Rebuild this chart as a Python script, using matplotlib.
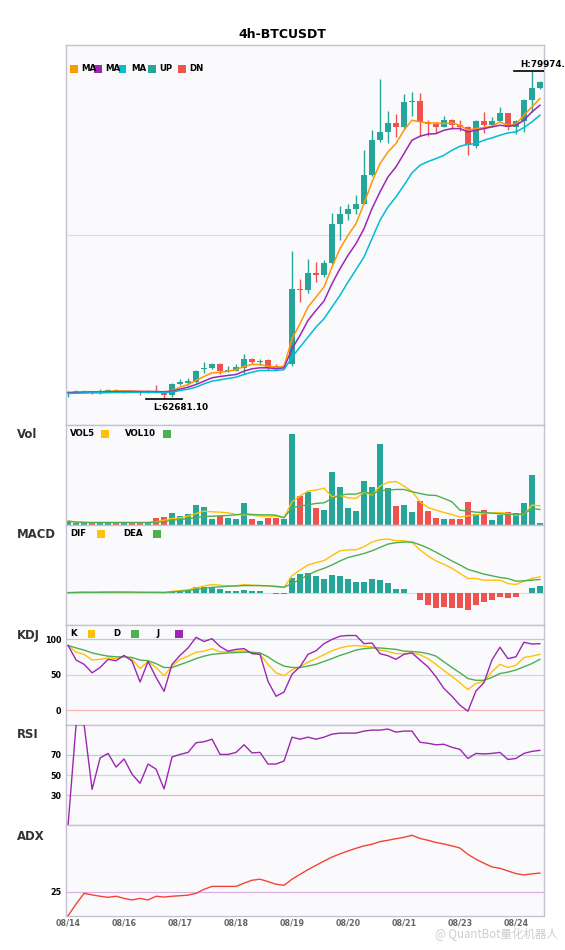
import matplotlib
matplotlib.use("Agg")
import matplotlib.pyplot as plt
from matplotlib.patches import Rectangle
import numpy as np

# ---- data (4h candles, 60 bars) ----
opens = [63000, 63020, 63040, 63070, 63020, 63070, 63130, 63060, 63100, 63050,
         63000, 63100, 63050, 62880, 63470, 63490, 63545, 64220, 64310, 64480,
         64130, 64160, 64300, 64780, 64600, 64690, 64400, 64330, 64480, 68480,
         68390, 69310, 69220, 69840, 71880, 72410, 72680, 72980, 74480, 76320,
         76750, 77220, 77030, 78330, 78390, 77310, 77200, 77030, 77420, 77150,
         77000, 76010, 77330, 77150, 77330, 77740, 77000, 77330, 78440, 79060]
highs = [63100, 63130, 63150, 63100, 63170, 63170, 63170, 63150, 63130, 63080,
         63150, 63370, 63100, 63490, 63690, 63750, 64170, 64600, 64540, 64540,
         64420, 64480, 65050, 64840, 64780, 64750, 64480, 64460, 70460, 68980,
         70030, 69870, 69980, 72470, 72840, 72940, 73420, 75800, 76890, 79550,
         77860, 77700, 78760, 78860, 78810, 77420, 77300, 77590, 77470, 77420,
         77070, 77420, 77820, 77560, 78090, 77770, 77420, 78530, 79974.5, 79460]
lows = [62750, 62950, 62980, 62900, 62930, 63030, 63000, 62950, 63000, 62880,
        62980, 62950, 62681.1, 62750, 63370, 63400, 63490, 64040, 64250, 63990,
        64100, 64130, 63950, 64500, 64460, 64200, 64200, 64280, 64380, 67780,
        68270, 68830, 69100, 69780, 71070, 72100, 72410, 72950, 74420, 76240,
        76180, 76500, 76940, 77590, 76540, 76560, 76710, 77000, 76940, 76820,
        75530, 75940, 76710, 77000, 77290, 76850, 76630, 76770, 77820, 79020]
closes = [63050, 63060, 63080, 63020, 63070, 63130, 63060, 63100, 63050, 62990,
          63090, 63000, 62880, 63440, 63540, 63620, 64160, 64310, 64480, 64130,
          64200, 64370, 64780, 64600, 64680, 64370, 64300, 64420, 68480, 68390,
          69310, 69220, 69840, 71880, 72410, 72680, 72980, 74480, 76330, 76750,
          77220, 77030, 78340, 78390, 77310, 77190, 77030, 77420, 77150, 77000,
          76060, 77330, 77150, 77330, 77740, 77000, 77330, 78440, 79060, 79410]

ma5 = [63000, 63020, 63040, 63040, 63040, 63060, 63080, 63080, 63080, 63060,
       63050, 63040, 63000, 63105, 63281, 63422, 63634, 63845, 64039, 64057,
       64127, 64198, 64374, 64480, 64480, 64374, 64340, 64374, 65837, 66631,
       67512, 68041, 68570, 69627, 70597, 71302, 71919, 72976, 74122, 75092,
       75709, 76149, 76855, 77383, 77295, 77242, 77242, 77206, 77242, 77118,
       76854, 76942, 76995, 77065, 77294, 77118, 77171, 77647, 78088, 78528]
ma10 = [62990, 63000, 63010, 63020, 63020, 63030, 63040, 63050, 63050, 63050,
        63050, 63050, 63040, 63070, 63175, 63281, 63422, 63598, 63775, 63845,
        63898, 63951, 64127, 64251, 64304, 64304, 64251, 64304, 65309, 66014,
        66807, 67336, 67829, 68746, 69539, 70244, 70861, 71654, 72712, 73593,
        74387, 74915, 75621, 76326, 76537, 76650, 76677, 76854, 76942, 76942,
        76766, 76854, 76942, 77030, 77118, 77065, 77118, 77383, 77823, 78176]
ma20 = [62950, 62960, 62970, 62980, 62980, 62990, 63000, 63000, 63010, 63010,
        63010, 63010, 63000, 63017, 63105, 63175, 63281, 63457, 63598, 63669,
        63739, 63810, 63951, 64074, 64162, 64162, 64162, 64200, 64868, 65397,
        65926, 66454, 66895, 67512, 68129, 68834, 69486, 70156, 71126, 72095,
        72800, 73329, 73945, 74598, 75004, 75200, 75355, 75532, 75796, 76008,
        76113, 76149, 76325, 76448, 76589, 76713, 76766, 76995, 77294, 77647]

volume = [100, 50, 50, 50, 50, 50, 50, 40, 40, 40, 50, 190, 220, 340, 250, 310,
          580, 520, 160, 260, 190, 160, 640, 160, 100, 190, 190, 160, 2710, 850,
          970, 490, 430, 1570, 1120, 490, 400, 1300, 1120, 2410, 1090, 550, 580,
          370, 700, 400, 190, 160, 160, 160, 670, 310, 430, 130, 280, 370, 340,
          640, 1480, 40]
vol5 = [100, 75, 60, 60, 60, 60, 60, 60, 60, 60, 60, 80, 130, 180, 200, 250,
        330, 400, 380, 370, 350, 300, 290, 280, 250, 250, 250, 210, 680, 850,
        1000, 1030, 1090, 830, 870, 800, 780, 970, 880, 1150, 1260, 1290, 1150,
        1000, 680, 510, 430, 360, 300, 220, 260, 290, 330, 340, 360, 330, 280,
        300, 580, 560]
vol10 = [100, 75, 65, 60, 60, 60, 60, 60, 60, 60, 60, 70, 80, 130, 150, 170,
         210, 240, 250, 260, 270, 290, 320, 300, 290, 290, 280, 200, 510, 550,
         590, 630, 650, 780, 880, 910, 910, 990, 910, 1010, 1030, 1050, 1050,
         980, 930, 880, 870, 780, 680, 430, 400, 370, 360, 340, 320, 300, 310,
         310, 480, 450]

dif = [0, 10, 20, 10, 20, 20, 20, 20, 10, 10, 10, 10, -10, 40, 60, 90, 140,
       200, 240, 220, 200, 200, 240, 220, 210, 200, 170, 150, 500, 670, 820,
       890, 950, 1100, 1240, 1270, 1270, 1360, 1500, 1570, 1590, 1540, 1540,
       1490, 1270, 1090, 940, 840, 720, 570, 420, 420, 370, 370, 370, 270, 240,
       340, 420, 470]
dea = [0, 5, 10, 10, 10, 15, 15, 15, 15, 10, 10, 10, 10, 20, 40, 60, 100, 120,
       160, 170, 190, 200, 210, 210, 210, 200, 190, 160, 270, 390, 520, 640,
       720, 820, 940, 1040, 1100, 1160, 1240, 1340, 1440, 1480, 1500, 1500,
       1420, 1320, 1200, 1070, 940, 820, 690, 620, 550, 500, 450, 420, 340, 350,
       370, 390]
macd_hist = [0, 5, 10, 0, 10, 5, 5, 5, 0, 0, 0, 0, -10, 60, 50, 90, 160, 160,
             160, 100, 40, 40, 70, 40, 40, -20, -30, -40, 440, 550, 580, 490,
             400, 520, 490, 400, 310, 310, 400, 370, 280, 100, 100, 0, -220,
             -360, -460, -430, -450, -460, -520, -380, -280, -220, -140, -160,
             -140, 0, 140, 190]

k_line = [91.5, 82, 79, 71, 72, 74, 73, 76.5, 72, 59, 69, 60.5, 49, 62.5, 72,
          76.5, 82, 83.5, 87, 82.5, 82.5, 83.5, 84, 81, 79, 65, 53, 49, 57,
          61.5, 68, 73, 78.5, 84, 88, 90.5, 91.5, 90.5, 89.5, 85, 83, 80, 80,
          81, 78.5, 73, 65, 56, 48, 39, 29.5, 38, 41, 54.5, 65, 60.5, 63.5,
          74.5, 76.5, 79]
d_line = [91.5, 88, 85, 81, 78.5, 76.5, 75.5, 75.5, 74.5, 71, 70, 66, 60.5,
          60.5, 64.5, 68.5, 73, 76.5, 79, 80, 81, 81.5, 82, 82, 81, 75.5, 68,
          62.5, 60.5, 60.5, 62.5, 65, 69, 73, 77.5, 81, 85, 87, 88, 88, 87, 86,
          83.5, 83, 82, 80, 76.5, 68.5, 60.5, 53, 45, 42.5, 42.5, 46.5, 52, 54,
          57, 61.5, 66, 72]
j_line = [91.5, 71, 65, 53, 60.5, 72, 70, 77.5, 69.5, 40, 69, 46.5, 27, 65,
          77.5, 88, 103, 97, 101, 90, 83.5, 86, 87, 80, 79, 41, 20, 26, 51,
          61.5, 79, 84, 94, 100, 104.5, 105.5, 105.5, 94, 95, 80, 77, 72, 79,
          81, 71, 61.5, 47.5, 31, 20, 7.5, -1, 27.5, 39, 71, 89, 73, 75.5, 96,
          93.5, 94]

rsi = [1.2, 100, 100, 36, 67, 71.5, 58, 66, 51, 42, 61, 56, 36.5, 68, 70.5,
       72.5, 82, 83, 85.5, 70.5, 70.5, 72.5, 80, 72, 72.5, 61, 61, 64, 87.5,
       85.5, 87.5, 85.5, 87.5, 90.5, 91.5, 91.5, 91.5, 93.5, 94.5, 94.5, 95.5,
       92.5, 93.5, 93.5, 82.5, 81.5, 80, 80.5, 77.5, 75.5, 66.5, 71.5, 71,
       71.5, 72.5, 65.5, 66.5, 71.5, 73.5, 74.5]

adx = [16.1, 20.5, 24.5, 23.9, 23.4, 23.0, 23.4, 22.6, 22.0, 22.6, 22.0, 23.4,
       23.1, 23.4, 23.6, 23.8, 24.5, 26.0, 27.1, 27.1, 27.1, 27.1, 28.3, 29.4,
       29.8, 28.9, 27.9, 27.5, 29.8, 31.6, 33.4, 35.0, 36.6, 38.1, 39.3, 40.4,
       41.4, 42.3, 42.9, 43.9, 44.4, 45.0, 45.5, 46.3, 45.1, 44.4, 43.6, 43.0,
       42.3, 41.5, 39.1, 37.3, 35.8, 34.4, 33.9, 32.9, 31.9, 31.4, 31.8, 32.1]

tick_labels = ["08/14", "08/16", "08/17", "08/18", "08/19", "08/20", "08/21",
               "08/23", "08/24"]

# ---- style ----
UP, DN = "#26a69a", "#ef5350"
C_MA5, C_MA10, C_MA20 = "#ff9800", "#9c27b0", "#00bcd4"
C_Y, C_G, C_P = "#ffc107", "#4caf50", "#9c27b0"
FACE = "#fafafc"
EDGE = "#c4c2d0"
W, H = 565, 950

fig = plt.figure(figsize=(W / 100, H / 100), dpi=100)
fig.patch.set_facecolor("white")


def fx(x):
    return x / W


def fy(y):
    return 1 - y / H


def panel(top, bottom):
    ax = fig.add_axes([fx(65.7), fy(bottom), (543.5 - 65.7) / W, (bottom - top) / H])
    ax.set_facecolor(FACE)
    for s in ax.spines.values():
        s.set_color(EDGE)
        s.set_linewidth(1)
    ax.set_xlim(-0.3, 59.45)
    ax.tick_params(length=0, labelsize=5.8, pad=3)
    ax.set_xticks([])
    ax.set_yticks([])
    return ax


def label(x, y, s, size=6.2, color="black"):
    fig.text(fx(x), fy(y), s, ha="left", va="center", fontsize=size,
             fontweight="bold", color=color)


def swatch(x, y, color):
    fig.add_artist(Rectangle((fx(x), fy(y + 3.8)), 7.6 / W, 7.6 / H,
                             transform=fig.transFigure, color=color, lw=0))


def ref_lines(ax, levels, colors):
    for lv, c in zip(levels, colors):
        ax.axhline(lv, color=c, lw=0.9, zorder=1)
    ax.set_yticks(levels)
    ax.set_yticklabels([str(v) for v in levels], fontweight="bold")


x = np.arange(len(closes))
o = np.array(opens)
c = np.array(closes)
hi = np.array(highs)
lo = np.array(lows)
colors = [UP if cc >= oo else DN for oo, cc in zip(o, c)]

fig.text(0.5, fy(34), "4h-BTCUSDT", ha="center", va="center", fontsize=9,
         fontweight="bold")

# ---- price panel ----
ax = panel(45, 424.7)
rng = hi.max() - lo.min()
lo_lim, hi_lim = lo.min() - 0.08 * rng, hi.max() + 0.08 * rng
ax.set_ylim(lo_lim, hi_lim)
ax.axhline((lo_lim + hi_lim) / 2, color="#dcdce2", lw=0.9, zorder=0)
ax.vlines(x, lo, hi, colors=colors, lw=1.0, zorder=2)
body = np.maximum(np.abs(c - o), 25)
ax.bar(x, body, bottom=np.minimum(o, c), width=0.75, color=colors, zorder=3)
ax.plot(x, ma5, color=C_MA5, lw=1.1, zorder=4)
ax.plot(x, ma10, color=C_MA10, lw=1.1, zorder=4)
ax.plot(x, ma20, color=C_MA20, lw=1.1, zorder=4)

# high / low markers; the high label runs off the right edge as in the original
ih, il = int(hi.argmax()), int(lo.argmin())
ax.plot([ih - 2.3, ih + 2.2], [hi[ih]] * 2, color="black", lw=1.2, zorder=5)
ax.annotate(f"H:{hi[ih]:.2f}", xy=(ih - 1.4, hi[ih]), xytext=(0, 5),
            textcoords="offset points", ha="left", va="center", fontsize=6.3,
            fontweight="bold", annotation_clip=False)
ax.plot([il - 2.3, il + 2.2], [lo[il]] * 2, color="black", lw=1.2, zorder=5)
ax.annotate(f"L:{lo[il]:.2f}", xy=(il - 1.4, lo[il]), xytext=(0, -6.5),
            textcoords="offset points", ha="left", va="center", fontsize=6.3,
            fontweight="bold", annotation_clip=False)

for sx, tx, col in [(70, 81, C_MA5), (94, 105.7, C_MA10), (118.7, 131.7, C_MA20)]:
    swatch(sx, 68.7, col)
    label(tx, 68.7, "MA")
swatch(148, 68.7, UP)
label(159, 68.7, "UP")
swatch(178, 68.7, DN)
label(189, 68.7, "DN")

# ---- volume ----
ax = panel(424.7, 524.5)
ax.bar(x, volume, width=0.75, color=colors, zorder=2)
ax.plot(x, vol5, color=C_Y, lw=1, zorder=3)
ax.plot(x, vol10, color=C_G, lw=1, zorder=3)
ax.set_ylim(0, max(volume) * 1.103)
label(17, 435, "Vol", size=8.4, color="#333333")
label(70, 434, "VOL5")
swatch(101, 434, C_Y)
label(125, 434, "VOL10")
swatch(163, 434, C_G)

# ---- MACD ----
ax = panel(524.5, 624.7)
hist_colors = [UP if v >= 0 else DN for v in macd_hist]
ax.bar(x, macd_hist, width=0.8, color=hist_colors, zorder=2)
ax.axhline(0, color="#d8d8de", lw=0.8, zorder=1)
ax.plot(x, dif, color=C_Y, lw=1, zorder=3)
ax.plot(x, dea, color=C_G, lw=1, zorder=3)
ax.set_ylim(-950, 2020)
label(17, 535, "MACD", size=8.4, color="#333333")
label(70, 534, "DIF")
swatch(97, 534, C_Y)
label(123, 534, "DEA")
swatch(153, 534, C_G)

# ---- KDJ ----
ax = panel(624.7, 724.5)
ref_lines(ax, [100, 50, 0], ["#a3d9d2", "#d4d4da", "#f6b3b3"])
ax.plot(x, k_line, color=C_Y, lw=1, zorder=3)
ax.plot(x, d_line, color=C_G, lw=1, zorder=3)
ax.plot(x, j_line, color=C_P, lw=1, zorder=3)
ax.set_ylim(-19.7, 120.7)
label(17, 636, "KDJ", size=8.4, color="#333333")
label(70, 633.7, "K")
swatch(87.5, 633.7, C_Y)
label(113.5, 633.7, "D")
swatch(131, 633.7, C_G)
label(157, 633.7, "J")
swatch(175, 633.7, C_P)

# ---- RSI ----
ax = panel(724.5, 824.7)
ref_lines(ax, [70, 50, 30], ["#a3d9d2", "#d4d4da", "#f6b3b3"])
ax.plot(x, rsi, color=C_P, lw=1, zorder=3)
ax.set_ylim(min(rsi), max(rsi))
label(17, 735, "RSI", size=8.4, color="#333333")

# ---- ADX ----
ax = panel(824.7, 915.7)
ref_lines(ax, [25], ["#dcb0e6"])
ax.plot(x, adx, color="#f44336", lw=1, zorder=3)
ax.set_ylim(16.1, 50.25)
label(17, 836, "ADX", size=8.4, color="#333333")
ax.set_xticks(range(0, len(closes), 7))
ax.set_xticklabels(tick_labels, fontweight="bold", color="#666666")
ax.tick_params(axis="x", pad=2)

fig.text(fx(558), fy(934), "@ QuantBot量化机器人", ha="right", va="center",
         fontsize=8.3, color="#cdcdcd",
         family=["Noto Sans CJK SC", "DejaVu Sans"])

fig.savefig("out.png", dpi=100, facecolor="white")
